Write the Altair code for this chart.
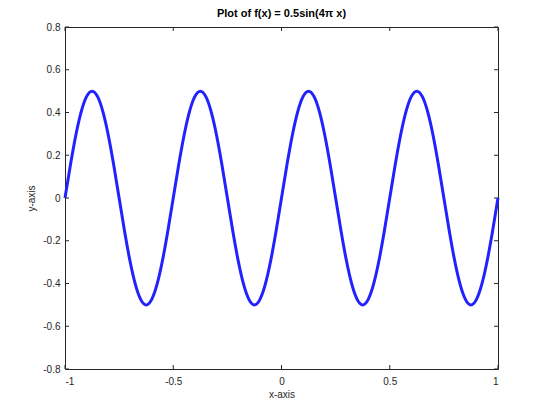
import altair as alt
import pandas as pd

# samples, step 0.025 in x
x_values = [-1.0, -0.975, -0.95, -0.925, -0.9, -0.875, -0.85, -0.825, -0.8, -0.775,
            -0.75, -0.725, -0.7, -0.675, -0.65, -0.625, -0.6, -0.575, -0.55, -0.525,
            -0.5, -0.475, -0.45, -0.425, -0.4, -0.375, -0.35, -0.325, -0.3, -0.275,
            -0.25, -0.225, -0.2, -0.175, -0.15, -0.125, -0.1, -0.075, -0.05, -0.025,
            0.0, 0.025, 0.05, 0.075, 0.1, 0.125, 0.15, 0.175, 0.2, 0.225,
            0.25, 0.275, 0.3, 0.325, 0.35, 0.375, 0.4, 0.425, 0.45, 0.475,
            0.5, 0.525, 0.55, 0.575, 0.6, 0.625, 0.65, 0.675, 0.7, 0.725,
            0.75, 0.775, 0.8, 0.825, 0.85, 0.875, 0.9, 0.925, 0.95, 0.975, 1.0]
y_values = [0.0, 0.1545, 0.2939, 0.4045, 0.4755, 0.5, 0.4755, 0.4045, 0.2939, 0.1545,
            0.0, -0.1545, -0.2939, -0.4045, -0.4755, -0.5, -0.4755, -0.4045, -0.2939, -0.1545,
            0.0, 0.1545, 0.2939, 0.4045, 0.4755, 0.5, 0.4755, 0.4045, 0.2939, 0.1545,
            0.0, -0.1545, -0.2939, -0.4045, -0.4755, -0.5, -0.4755, -0.4045, -0.2939, -0.1545,
            0.0, 0.1545, 0.2939, 0.4045, 0.4755, 0.5, 0.4755, 0.4045, 0.2939, 0.1545,
            0.0, -0.1545, -0.2939, -0.4045, -0.4755, -0.5, -0.4755, -0.4045, -0.2939, -0.1545,
            0.0, 0.1545, 0.2939, 0.4045, 0.4755, 0.5, 0.4755, 0.4045, 0.2939, 0.1545,
            0.0, -0.1545, -0.2939, -0.4045, -0.4755, -0.5, -0.4755, -0.4045, -0.2939, -0.1545,
            0.0]
x_ticks = [-1, -0.5, 0, 0.5, 1]
y_ticks = [-0.8, -0.6, -0.4, -0.2, 0, 0.2, 0.4, 0.6, 0.8]
title_text = ["Plot of f(x) = 0.5sin(4π x)"]

W, H = 433, 342
FONT = "Liberation Sans"
TXT = "#262626"

curve = pd.DataFrame({"x": x_values, "y": y_values})
xt = pd.DataFrame({"x": x_ticks})
yt = pd.DataFrame({"y": y_ticks})
tt = pd.DataFrame({"t": title_text})

xs = alt.Scale(domain=[-1, 1], nice=False, zero=False)
ys = alt.Scale(domain=[-0.8, 0.8], nice=False, zero=False)

x_axis = alt.Axis(values=x_ticks, labelExpr="datum.value + ''", labelPadding=7,
                  titlePadding=3)
y_axis = alt.Axis(values=y_ticks, labelExpr="datum.value + ''", labelPadding=5,
                  titlePadding=6)

line = alt.Chart(curve).mark_line(color="#2222ff", strokeWidth=3, interpolate="natural").encode(
    x=alt.X("x:Q", scale=xs, axis=x_axis, title="x-axis"),
    y=alt.Y("y:Q", scale=ys, axis=y_axis, title="y-axis"),
)

tick_style = dict(color=TXT, strokeWidth=1)
xb = alt.Chart(xt).mark_rule(**tick_style).encode(
    x=alt.X("x:Q", scale=xs, axis=x_axis, title="x-axis"),
    y=alt.value(H), y2=alt.value(H - 4))
xtop = alt.Chart(xt).mark_rule(**tick_style).encode(
    x=alt.X("x:Q", scale=xs, axis=x_axis, title="x-axis"),
    y=alt.value(0), y2=alt.value(4))
yl = alt.Chart(yt).mark_rule(**tick_style).encode(
    y=alt.Y("y:Q", scale=ys, axis=y_axis, title="y-axis"),
    x=alt.value(0), x2=alt.value(4))
yr = alt.Chart(yt).mark_rule(**tick_style).encode(
    y=alt.Y("y:Q", scale=ys, axis=y_axis, title="y-axis"),
    x=alt.value(W - 4), x2=alt.value(W))

title = alt.Chart(tt).mark_text(font=FONT, fontSize=11, fontWeight="bold", color="#000000",
                                align="center", baseline="top").encode(
    text="t:N", x=alt.value(W / 2), y=alt.value(-19))

chart = alt.layer(xb, xtop, yl, yr, line, title).properties(
    width=W, height=H,
    autosize=alt.AutoSizeParams(type="none"),
    padding={"left": 57, "top": 19, "right": 30, "bottom": 30},
).configure_view(stroke=TXT, strokeWidth=1).configure_axis(
    domain=False, ticks=False, grid=False,
    labelFont=FONT, labelFontSize=10, labelColor=TXT,
    titleFont=FONT, titleFontSize=10, titleColor=TXT, titleFontWeight="normal",
)

chart.save("out.html", embed_options={"renderer": "svg", "actions": False})
